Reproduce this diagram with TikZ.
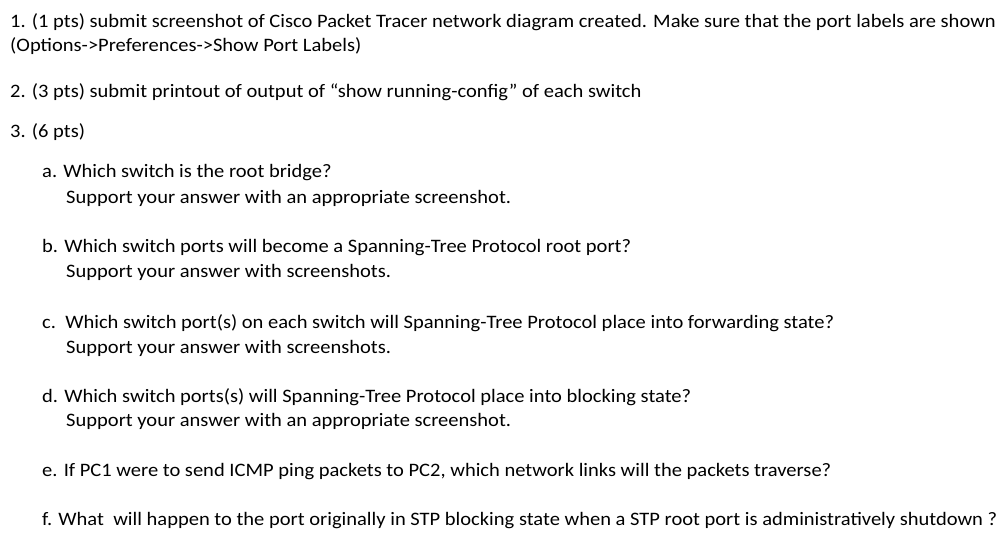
\documentclass[tikz,border=0pt]{standalone}
\usepackage{fontspec}
\setmainfont{Carlito}
\newcommand{\widetxt}[1]{\scalebox{1.08}[1]{#1}}
\begin{document}
\begin{tikzpicture}[x=1pt,y=-1pt,t/.style={anchor=west,inner sep=0pt,font=\fontsize{19}{22}\selectfont}]
\useasboundingbox[fill=white] (0,0) rectangle (1004,538);
\node[t] (l1) at (10,22) {\widetxt{1. (1 pts) submit screenshot of Cisco Packet Tracer network diagram created. Make sure that the port labels are shown}};
\node[t] (l1b) at (10,46) {\widetxt{(Options->Preferences->Show Port Labels)}};
\node[t] (l2) at (10,92) {\widetxt{2. (3 pts) submit printout of output of “show running-config” of each switch}};
\node[t] (l3) at (10,132) {\widetxt{3. (6 pts)}};
\node[t] (a) at (42,173) {\widetxt{a. Which switch is the root bridge?}};
\node[t] (a2) at (66,198) {\widetxt{Support your answer with an appropriate screenshot.}};
\node[t] (b) at (42,248) {\widetxt{b. Which switch ports will become a Spanning-Tree Protocol root port?}};
\node[t] (b2) at (66,272) {\widetxt{Support your answer with screenshots.}};
\node[t] (c) at (42,323) {\widetxt{c.\ \ Which switch port(s) on each switch will Spanning-Tree Protocol place into forwarding state?}};
\node[t] (c2) at (66,348) {\widetxt{Support your answer with screenshots.}};
\node[t] (d) at (42,397) {\widetxt{d. Which switch ports(s) will Spanning-Tree Protocol place into blocking state?}};
\node[t] (d2) at (66,421) {\widetxt{Support your answer with an appropriate screenshot.}};
\node[t] (e) at (42,472) {\widetxt{e. If PC1 were to send ICMP ping packets to PC2, which network links will the packets traverse?}};
\node[t] (f) at (42,521) {\widetxt{f. What\ \ will happen to the port originally in STP blocking state when a STP root port is administratively shutdown ?}};
\end{tikzpicture}
\end{document}
